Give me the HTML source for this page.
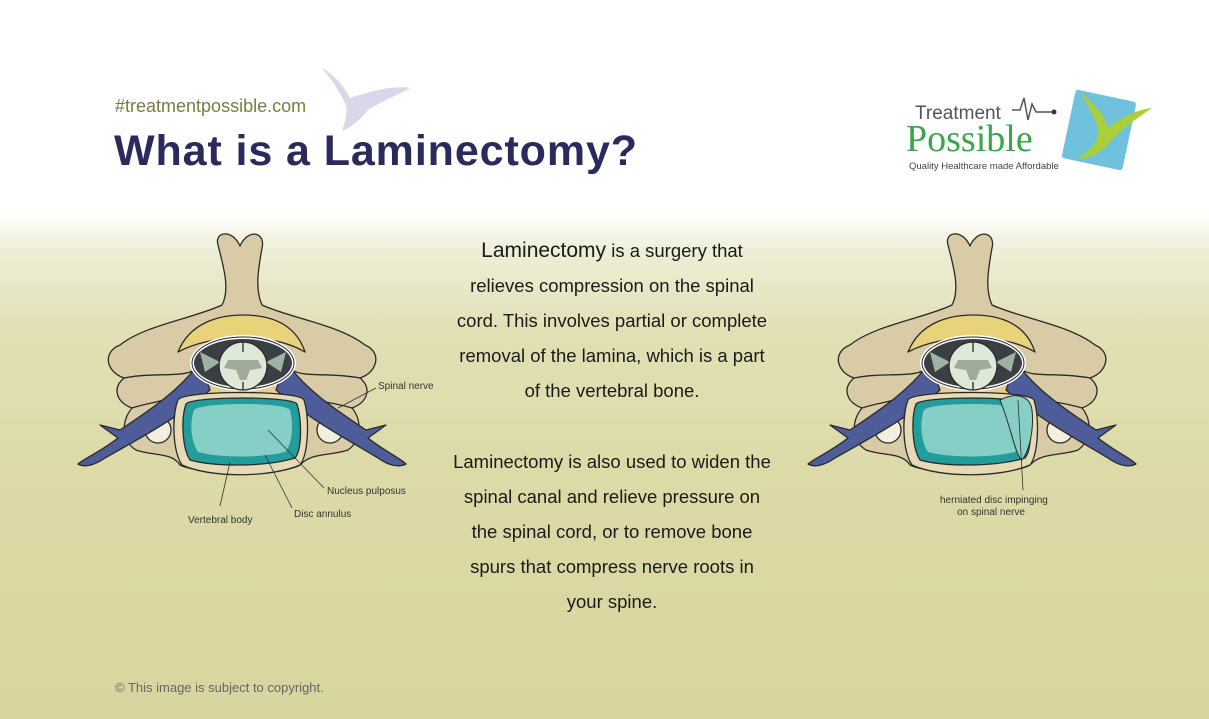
<!DOCTYPE html>
<html><head><meta charset="utf-8"><style>
html,body{margin:0;padding:0}
body{width:1209px;height:719px;overflow:hidden;position:relative;font-family:"Liberation Sans",sans-serif;
background:linear-gradient(to bottom,#fff 0px,#fff 212px,#eeeed8 250px,#e2e0b4 330px,#dcd9a6 500px,#d8d59f 719px);}
.t{position:absolute;white-space:nowrap}
.c{position:absolute;left:412px;width:400px;text-align:center;font-size:18.5px;color:#1a1a1a;line-height:35px}
</style></head><body>
<svg width="1209" height="719" style="position:absolute;left:0;top:0">
<defs>
<g id="v" stroke="#2a2a2a" stroke-width="1.3" stroke-linejoin="round">
 <path fill="#d9cba6" d="M218,245 C214,232 232,228 240,246 C248,228 266,232 262,248 C258,270 255,290 262,305 C290,318 340,325 365,345 C382,352 378,372 360,378 C372,388 368,402 352,408 C362,420 362,440 348,450 C332,456 312,452 300,465 C285,475 200,475 180,465 C172,452 152,456 136,450 C120,440 122,420 132,408 C116,402 112,388 124,378 C106,372 102,352 120,345 C145,325 195,318 222,305 C230,290 224,268 218,245 Z"/>
 <path fill="none" d="M124,378 C155,372 180,378 195,370 M360,378 C328,372 305,378 292,370 M132,408 C150,402 165,402 175,395 M352,408 C332,402 315,402 305,395"/>
 <path fill="#e8d37a" d="M178,352 C190,322 220,315 243,315 C268,315 295,322 305,352 C290,343 270,338 243,338 C215,338 195,343 178,352 Z"/>
 <path fill="#e8d37a" stroke="none" d="M195,390 L292,390 L300,397 L185,397 Z"/>
 <circle cx="158" cy="430" r="13" fill="#f3efdc"/>
 <circle cx="330" cy="430" r="13" fill="#f3efdc"/>
 <path fill="#4f5c9a" d="M200,362 C180,390 150,410 120,430 L100,425 L118,438 C100,452 85,458 78,464 C85,468 95,465 105,458 C140,438 175,420 210,390 Z"/>
 <path fill="#4f5c9a" d="M286,362 C306,390 336,410 366,430 L386,425 L368,438 C386,452 400,458 406,464 C398,468 388,465 378,458 C345,438 310,420 276,390 Z"/>
 <ellipse cx="243" cy="363" rx="51" ry="26" fill="#3b3f44" stroke="#fff" stroke-width="4"/>
 <ellipse cx="243" cy="363" rx="51" ry="26" fill="none" stroke="#2a2a2a" stroke-width="1"/>
 <path fill="#9fb3a4" stroke="none" d="M200,352 L220,362 L205,372 Z M286,352 L266,362 L281,372 Z"/>
 <circle cx="243" cy="366" r="24" fill="#dfe8d6"/>
 <path fill="#9eab9c" stroke="none" d="M228,360 L258,360 L262,368 L250,370 L246,380 L240,380 L236,370 L224,368 Z"/>
 <path fill="none" d="M243,342 L243,352 M243,382 L243,390"/>
 <path fill="#e6dbb6" d="M178,400 C182,390 300,390 304,400 C310,420 308,455 300,465 C270,478 210,478 182,465 C172,450 172,415 178,400 Z"/>
 <path fill="#239c9c" d="M186,404 C192,396 292,396 297,404 C302,420 302,450 295,458 C265,467 215,467 190,460 C182,448 181,418 186,404 Z"/>
 <path fill="#86cfc6" stroke="none" d="M194,410 C200,402 285,402 290,410 C294,425 292,445 285,452 C260,458 220,458 198,452 C190,440 190,420 194,410 Z"/>
</g>
</defs>
<path fill="#d8d8ea" d="M322,68 C335,75 345,88 350,98 C368,92 392,85 410,88 C396,96 380,102 368,110 C360,120 350,128 342,131 C346,120 348,110 345,103 C338,88 330,78 322,68 Z"/>
<use href="#v"/>
<use href="#v" transform="translate(730,0)"/>
<path fill="#86cfc6" stroke="#2a2a2a" stroke-width="1" d="M1000,400 C1015,392 1030,395 1032,410 C1034,428 1030,450 1022,460 C1015,455 1012,430 1000,400 Z"/>
<g stroke="#333" stroke-width="0.8">
 <line x1="376" y1="388" x2="338" y2="408"/>
 <line x1="324" y1="488" x2="268" y2="430"/>
 <line x1="292" y1="508" x2="265" y2="455"/>
 <line x1="220" y1="506" x2="230" y2="462"/>
 <line x1="1023" y1="490" x2="1018" y2="400"/>
</g>
<g>
 <rect x="1068" y="95" width="62" height="70" rx="3" fill="#6fc1dc" transform="rotate(12 1099 130)"/>
 <path d="M1080,92 C1095,105 1105,115 1108,128 C1120,118 1135,110 1152,108 C1138,118 1122,128 1112,140 C1100,155 1085,160 1078,158 C1092,150 1100,140 1098,128 C1094,115 1086,102 1080,92 Z" fill="#a9cf3a"/>
 <path d="M1012,110 L1020,110 L1024,98 L1028,120 L1032,104 L1036,112 L1052,112" fill="none" stroke="#555" stroke-width="1.5"/>
 <circle cx="1054" cy="112" r="2.5" fill="#335"/>
</g>
</svg>
<div class="t" style="left:115px;top:96px;font-size:18px;color:#7d7b3c">#treatmentpossible.com</div>
<div class="t" style="left:114px;top:127px;font-size:43px;font-weight:bold;color:#2b2a5c;letter-spacing:0.9px">What is a Laminectomy?</div>
<div class="t" style="left:915px;top:103px;font-size:19px;color:#555">Treatment</div>
<div class="t" style="left:906px;top:117px;font-size:38px;color:#3aa64a;font-family:'Liberation Serif',serif">Possible</div>
<div class="t" style="left:909px;top:161px;font-size:9.5px;color:#444">Quality Healthcare made Affordable</div>
<div class="c" style="top:233px"><span style="font-size:21px">Laminectomy</span> is a surgery that<br>relieves compression on the spinal<br>cord. This involves partial or complete<br>removal of the lamina, which is a part<br>of the vertebral bone.</div>
<div class="c" style="top:444px">Laminectomy is also used to widen the<br>spinal canal and relieve pressure on<br>the spinal cord, or to remove bone<br>spurs that compress nerve roots in<br>your spine.</div>
<div class="t" style="left:378px;top:381px;font-size:10px;color:#333">Spinal nerve</div>
<div class="t" style="left:327px;top:486px;font-size:10px;color:#333">Nucleus pulposus</div>
<div class="t" style="left:294px;top:509px;font-size:10px;color:#333">Disc annulus</div>
<div class="t" style="left:188px;top:515px;font-size:10px;color:#333">Vertebral body</div>
<div class="t" style="left:940px;top:495px;text-align:center;font-size:10px;color:#333;line-height:12px;width:102px">herniated disc impinging<br>on spinal nerve</div>
<div class="t" style="left:115px;top:680px;font-size:13px;color:#666">© This image is subject to copyright.</div>
</body></html>
